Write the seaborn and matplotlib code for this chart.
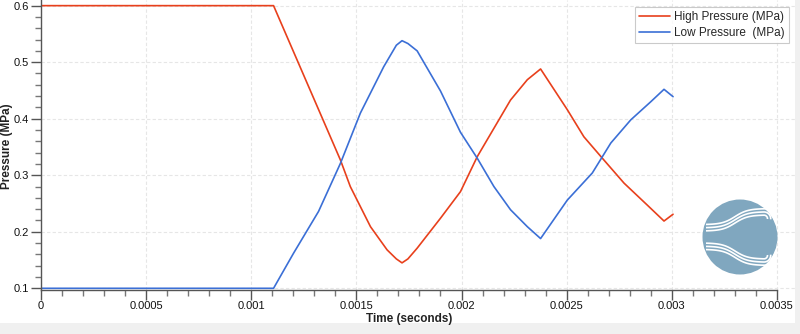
import numpy as np
import pandas as pd
import matplotlib
matplotlib.use("Agg")
import matplotlib.pyplot as plt
from matplotlib.patches import Circle, Rectangle
from matplotlib.ticker import MultipleLocator, FuncFormatter
import seaborn as sns

# ---- data ----
high_t = [0.0, 0.001106, 0.001424, 0.001471, 0.001567, 0.001646, 0.00169, 0.001717,
          0.001745, 0.001789, 0.0019, 0.001995, 0.002075, 0.002154, 0.002233, 0.002313,
          0.002376, 0.002503, 0.002582, 0.00267, 0.002773, 0.002884, 0.002963,
          0.003006]
high_p = [0.6, 0.6, 0.327, 0.280, 0.209, 0.168, 0.152, 0.145,
          0.152, 0.171, 0.224, 0.271, 0.333, 0.383, 0.433, 0.469,
          0.488, 0.416, 0.368, 0.330, 0.286, 0.247, 0.219,
          0.231]
low_t = [0.0, 0.001106, 0.001201, 0.00132, 0.001424, 0.001519, 0.00163, 0.00169,
         0.001717, 0.001745, 0.001789, 0.0019, 0.001995, 0.002075, 0.002154, 0.002233,
         0.002313, 0.002376, 0.002503, 0.002622, 0.00271, 0.002805, 0.0029,
         0.002963, 0.003006]
low_p = [0.1, 0.1, 0.162, 0.236, 0.321, 0.41, 0.492, 0.530,
         0.538, 0.533, 0.520, 0.449, 0.376, 0.330, 0.280, 0.239,
         0.209, 0.188, 0.256, 0.304, 0.357, 0.398, 0.430,
         0.452, 0.439]
series_names = ["High Pressure (MPa)", "Low Pressure  (MPa)"]
x_ticks = [0, 0.0005, 0.001, 0.0015, 0.002, 0.0025, 0.003, 0.0035]
x_tick_labels = ["0", "0.0005", "0.001", "0.0015", "0.002", "0.0025", "0.003", "0.0035"]
y_ticks = [0.1, 0.2, 0.3, 0.4, 0.5, 0.6]

df = pd.concat([
    pd.DataFrame({"t": high_t, "p": high_p, "series": series_names[0]}),
    pd.DataFrame({"t": low_t, "p": low_p, "series": series_names[1]}),
], ignore_index=True)

sns.set_theme(style="white")
plt.rcParams["font.family"] = ["Liberation Sans", "DejaVu Sans"]

W, H = 800, 334
fig = plt.figure(figsize=(W / 100, H / 100), dpi=100)
fig.patch.set_facecolor("white")

# window chrome strips
fig.add_artist(Rectangle((0, 0), 1, 11 / H, transform=fig.transFigure,
                         facecolor="#f0f0f0", edgecolor="none", zorder=0))
fig.add_artist(Rectangle((795 / W, 0), 5 / W, 1, transform=fig.transFigure,
                         facecolor="#f0f0f0", edgecolor="none", zorder=0))

AX_L, AX_R, AX_B = 41, 795, 290
ax = fig.add_axes([AX_L / W, (H - AX_B) / H, (AX_R - AX_L) / W, AX_B / H])

palette = {series_names[0]: "#e8401c", series_names[1]: "#3b6fd6"}
sns.lineplot(data=df, x="t", y="p", hue="series", palette=palette,
             linewidth=1.2, sort=False, ax=ax, estimator=None)

ax.set_xlim(0, 0.003586)
ax.set_ylim(0.097, 0.61)
ax.set_xticks(x_ticks)
ax.set_xticklabels(x_tick_labels)
ax.set_yticks(y_ticks)
ax.yaxis.set_major_formatter(FuncFormatter(lambda v, p: f"{v:.1f}"))
ax.xaxis.set_minor_locator(MultipleLocator(0.0001))
ax.yaxis.set_minor_locator(MultipleLocator(0.02))

ax.grid(True, which="major", color="#e6e6e6", linestyle=(0, (3, 2)), linewidth=0.8)
ax.set_axisbelow(True)

for s in ["top", "right"]:
    ax.spines[s].set_visible(False)
for s in ["left", "bottom"]:
    ax.spines[s].set_color("#555555")
    ax.spines[s].set_linewidth(1.0)
ax.spines["bottom"].set_bounds(0, 0.0035)
ax.spines["left"].set_bounds(0.097, 0.61)

ax.tick_params(axis="both", which="major", direction="out", length=7, width=1,
               color="#555555", labelsize=8, labelcolor="#111111", pad=2,
               bottom=True, left=True)
ax.tick_params(axis="x", which="major", pad=1)
ax.tick_params(axis="both", which="minor", direction="out", length=4, width=1,
               color="#777777", bottom=True, left=True)

ax.set_xlabel("Time (seconds)", fontsize=8.5, fontweight="bold", color="#222222")
ax.set_ylabel("Pressure (MPa)", fontsize=8.5, fontweight="bold", color="#222222")
ax.xaxis.set_label_coords((409 - AX_L) / (AX_R - AX_L), -(319 - AX_B) / AX_B)
ax.yaxis.set_label_coords(-(AX_L - 7) / (AX_R - AX_L), 1 - 146 / AX_B)
ax.xaxis.label.set_va("center")
ax.yaxis.label.set_va("center")

leg = ax.legend(loc="upper right", bbox_to_anchor=((789 - AX_L) / (AX_R - AX_L), 1 - 7 / AX_B),
                fontsize=8.5, frameon=True, fancybox=False, handlelength=2.6,
                handletextpad=0.4, borderpad=0.35, labelspacing=0.35,
                borderaxespad=0)
leg.get_frame().set_edgecolor("#bdbdbd")
leg.get_frame().set_linewidth(0.8)
leg.set_title(None)

# logo
lax = fig.add_axes([700 / W, (H - 277) / H, 80 / W, 80 / H])
lax.set_xlim(700, 780)
lax.set_ylim(277, 197)
lax.set_aspect("equal")
lax.axis("off")
lax.add_patch(Circle((740, 237), 37.5, facecolor="#80a7bf", edgecolor="none"))
xs = np.linspace(0, 1, 100)
for k in range(3):
    off = k * 3.2
    xx = 706 + xs * 58
    sig = 1 / (1 + np.exp(-(xs - 0.5) * 9))
    # top group
    yy = 231 - off - 16 * sig
    lax.plot(xx, yy, color="white", lw=1.2, solid_capstyle="butt")
    r = 3.5 + k * 3.2
    ang = np.linspace(-np.pi / 2, 0.1, 20)
    cx, cy = xx[-1], yy[-1] + r
    lax.plot(cx + r * np.cos(ang), cy + r * np.sin(ang), color="white", lw=1.2,
             solid_capstyle="butt")
    # bottom group
    yy2 = 243 + off + 16 * sig
    lax.plot(xx, yy2, color="white", lw=1.2, solid_capstyle="butt")
    cy2 = yy2[-1] - r
    lax.plot(cx + r * np.cos(-ang), cy2 + r * np.sin(-ang), color="white", lw=1.2,
             solid_capstyle="butt")

fig.savefig("out.png", dpi=100)
